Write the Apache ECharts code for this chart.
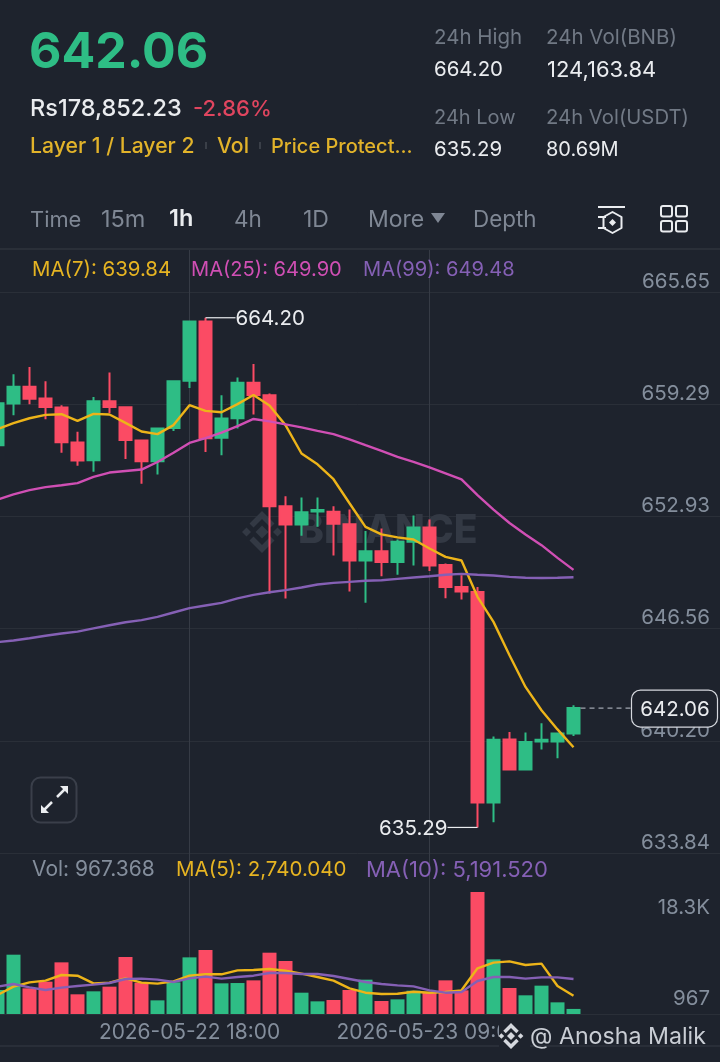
<!DOCTYPE html>
<html><head><meta charset="utf-8">
<style>html,body{margin:0;padding:0;background:#1e232d;overflow:hidden;width:720px;height:1062px}#c{position:absolute;left:-11px;top:0;width:742px;height:1062px}</style>
<script src="https://cdn.jsdelivr.net/npm/echarts@6/dist/echarts.min.js"></script>
</head><body><div id="c"></div>
<script>
const times = ['2026-05-22 06:00','2026-05-22 07:00','2026-05-22 08:00','2026-05-22 09:00','2026-05-22 10:00','2026-05-22 11:00','2026-05-22 12:00','2026-05-22 13:00','2026-05-22 14:00','2026-05-22 15:00','2026-05-22 16:00','2026-05-22 17:00','2026-05-22 18:00','2026-05-22 19:00','2026-05-22 20:00','2026-05-22 21:00','2026-05-22 22:00','2026-05-22 23:00','2026-05-23 00:00','2026-05-23 01:00','2026-05-23 02:00','2026-05-23 03:00','2026-05-23 04:00','2026-05-23 05:00','2026-05-23 06:00','2026-05-23 07:00','2026-05-23 08:00','2026-05-23 09:00','2026-05-23 10:00','2026-05-23 11:00','2026-05-23 12:00','2026-05-23 13:00','2026-05-23 14:00','2026-05-23 15:00','2026-05-23 16:00','2026-05-23 17:00','2026-05-23 18:00'];
const opens  = [656.97,659.34,660.28,659.62,659.11,657.13,656.12,659.47,659.13,657.24,656.06,657.94,660.62,663.99,657.39,658.50,660.51,659.81,653.51,652.47,653.21,653.19,652.49,650.43,650.96,650.34,651.49,652.30,650.17,648.93,648.65,636.71,640.28,638.58,640.17,640.17,640.62];
const closes = [659.35,660.28,659.60,659.14,657.14,656.10,659.47,659.14,657.26,656.06,657.92,660.60,663.99,657.37,658.49,660.51,659.82,653.51,652.47,653.17,653.29,652.51,650.43,650.96,650.34,651.49,652.30,650.15,648.93,648.67,636.71,640.26,638.58,640.14,640.26,640.62,642.06];
const lows   = [656.86,658.67,659.30,658.45,656.54,655.80,655.46,658.80,656.19,654.78,655.31,657.78,660.22,656.59,656.40,657.92,658.71,648.56,648.28,651.83,652.34,650.72,648.67,648.03,649.54,649.62,650.15,649.84,648.29,648.22,635.29,635.59,638.58,638.55,639.71,639.22,640.47];
const highs  = [659.52,661.00,661.41,660.60,659.24,657.73,659.71,661.10,659.15,657.24,657.95,660.60,663.99,664.20,659.81,660.81,661.57,659.90,654.08,654.01,654.01,653.51,653.32,652.11,652.25,651.62,652.98,652.76,650.26,649.60,648.93,640.45,640.71,640.68,641.20,640.62,642.22];
const ma7  = [657.88,658.22,658.50,658.69,658.73,658.35,658.75,658.71,658.24,657.75,657.60,658.11,659.24,658.92,658.84,659.30,659.82,659.22,658.11,656.50,655.89,655.04,653.68,652.34,651.91,651.74,651.62,651.11,650.64,650.43,648.37,646.95,645.06,643.26,641.94,640.85,639.84];
const ma25 = [653.89,654.18,654.42,654.59,654.70,654.82,655.17,655.42,655.51,655.59,656.02,656.54,657.10,657.37,657.69,658.05,658.46,658.32,658.15,657.98,657.78,657.60,657.30,656.97,656.65,656.31,656.02,655.71,655.37,655.03,654.14,653.32,652.56,651.91,651.30,650.58,649.90];
const ma99 = [645.80,645.89,646.02,646.16,646.29,646.40,646.58,646.76,646.93,647.05,647.23,647.48,647.73,647.88,648.03,648.28,648.48,648.63,648.75,648.90,649.07,649.16,649.22,649.28,649.31,649.39,649.47,649.54,649.62,649.67,649.62,649.58,649.50,649.45,649.44,649.45,649.48];
const volumes = [4570,11300,4890,6160,9840,3750,4320,5210,10860,5970,2600,6030,10790,12190,5840,5900,6410,11680,10100,4060,2410,2670,4570,6540,2480,2790,4440,4060,6410,4510,23240,10410,4950,3560,5400,2220,967];
const volMa5  = [3620,5210,6030,6350,7430,7300,5840,5970,6790,5970,5780,6220,7300,7560,7560,8320,8380,8570,8250,7680,7050,6350,4890,4060,3810,3870,4250,4060,4190,4510,8700,9780,10030,9330,9590,5330,3490];
const volMa10 = [5210,5710,5080,4570,5020,5330,5590,5900,6670,6730,6540,6100,6790,7110,6730,7050,7300,7810,7810,7620,7620,7240,6670,6100,5710,5460,5270,4510,4060,4190,6290,7050,7050,6730,6980,6980,6670];
const priceTicks = [633.84,640.20,646.56,652.93,659.29,665.65];
const volTicks = [967,18300];
const volTickLabels = ['967','18.3K'];
const lastPrice = 642.06, highPrice = 664.20, lowPrice = 635.29;

const BG='#1e232d', UP='#2ebd85', DOWN='#fb4b64', GREY='#848e9c', WHITE='#eaecef', YEL='#f0b90b', PINK='#d04fb4', PUR='#8560b5', GRID='#2a2f38', VLINE='#363b45';
const FONT='Inter, "Noto Sans", sans-serif';
const axisCats = times.concat(new Array(9).fill(''));
const labelled = [12,27];

function T(text,x,y,size,fill,o){o=o||{};return {type:'text',silent:true,z:o.z==null?50:o.z,style:{x:x,y:y,text:text,fill:fill,fontSize:size,fontFamily:FONT,fontWeight:o.w||400,align:o.a||'left',verticalAlign:'middle'}};}
function L(x1,y1,x2,y2,c,w,o){o=o||{};return {type:'line',silent:true,z:o.z==null?50:o.z,shape:{x1,y1,x2,y2},style:{stroke:c,lineWidth:w||1,lineDash:o.d,lineCap:o.cap||'butt'}};}
function P(pts,o){return {type:'polygon',silent:true,z:o.z==null?50:o.z,shape:{points:pts},style:{fill:o.fill||null,stroke:o.stroke||null,lineWidth:o.w||1,lineJoin:'round'}};}
function R(x,y,w,h,r,o){return {type:'rect',silent:true,z:o.z==null?50:o.z,shape:{x,y,width:w,height:h,r},style:{fill:o.fill||null,stroke:o.stroke||null,lineWidth:o.w||1}};}

const g=[];
// header
g.push(T('642.06',29,53,50,UP,{w:700}));
g.push(T('Rs178,852.23',30,109,23.5,WHITE,{w:500}));
g.push(T('-2.86%',193,109,22,'#e0455f',{w:500}));
g.push(T('Layer 1 / Layer 2',30,147,21.2,'#e2b32a',{w:500}));
g.push(T('Vol',217,147,21.2,'#e2b32a',{w:500}));
g.push(T('Price Protect...',271,147,20,'#e2b32a',{w:500}));
g.push(L(206,142,206,149,'#3a3f48',2)); g.push(L(260,142,260,149,'#3a3f48',2));
g.push(T('24h High',434,38,20.5,'#717985'));
g.push(T('24h Vol(BNB)',546,38,20.5,'#717985'));
g.push(T('664.20',434,70,20.4,WHITE));
g.push(T('124,163.84',547,70,22,WHITE));
g.push(T('24h Low',434,118,20,'#717985'));
g.push(T('24h Vol(USDT)',546,118,20.3,'#717985'));
g.push(T('635.29',434,150,20.4,WHITE));
g.push(T('80.69M',546,150,20,WHITE));
// tabs
[['Time',30,21.9],['15m',101,23.5],['4h',234,22.5],['1D',303,23],['More',368,23],['Depth',473,22.4]].forEach(a=>g.push(T(a[0],a[1],220,a[2],'#7f8794')));
g.push(T('1h',169,219,23.5,WHITE,{w:600}));
g.push(P([[431,213],[445,213],[438,223]],{fill:'#7f8794'}));
// tool icons
g.push(L(598,207,625,207,WHITE,2)); g.push(L(598,217,606,217,WHITE,2)); g.push(L(598,228,606,228,WHITE,2));
g.push(P([[612,212],[621,217],[621,228],[612,233],[603,228],[603,217]].map(p=>[p[0]+0.5,p[1]]),{stroke:WHITE,w:2}));
g.push(P([[612.5,219],[616,222.5],[612.5,226],[609,222.5]],{fill:WHITE}));
[[661,206],[676,206],[661,221],[676,221]].forEach(p=>g.push(R(p[0],p[1],11,10.5,2,{stroke:WHITE,w:2})));
// separators
g.push(L(0,249,720,249,'#2a2f38',2,{z:1})); g.push(L(0,1046,720,1046,'#343a44',1,{z:1}));
// legends
g.push(T('MA(7): 639.84',32,270,20.4,'#e6b422'));
g.push(T('MA(25): 649.90',191,270,20.1,PINK));
g.push(T('MA(99): 649.48',363,270,20.1,PUR));
g.push(T('Vol: 967.368',32,870,21,GREY));
g.push(T('MA(5): 2,740.040',176,870,20.5,'#e6b422'));
g.push(T('MA(10): 5,191.520',366,870,22,PUR));
// expand button
g.push(R(31.5,777.5,45,45,9,{stroke:'#3a3f4a',w:2}));
g.push(L(43,811,52,802,WHITE,2.5)); g.push(L(57,797,66,788,WHITE,2.5));
g.push(P([[41,813],[41,805],[49,813]],{fill:WHITE})); g.push(P([[68,786],[68,794],[60,786]],{fill:WHITE}));
// BINANCE watermark
const WM='#333944';
function logo(cx,cy,s,c,z){
  const d=(x,y,r)=>P([[cx+(x)*s,cy+(y-r)*s],[cx+(x+r)*s,cy+y*s],[cx+x*s,cy+(y+r)*s],[cx+(x-r)*s,cy+y*s]],{fill:c,z});
  const out=[d(0,0,6.5),d(-15.5,0,4.5),d(15.5,0,4.5)];
  const ch=(sgn)=>P([[cx,cy+sgn*-21*s],[cx+12.5*s,cy+sgn*-8.5*s],[cx+8.5*s,cy+sgn*-4.5*s],[cx,cy+sgn*-13*s],[cx-8.5*s,cy+sgn*-4.5*s],[cx-12.5*s,cy+sgn*-8.5*s]],{fill:c,z});
  out.push(ch(1),ch(-1));return out;
}
logo(262,532,1,WM,0).forEach(e=>g.push(e));
g.push(T('BINANCE',298,531,39,WM,{w:800,z:0}));
// author mark: dark patch hides the axis label behind the logo
g.push(R(499,1022,31,30,0,{fill:BG,z:59}));
logo(511,1036,0.62,'#d5d8de',60).forEach(e=>g.push(e));
g.push(T('@ Anosha Malik',530,1037,23.2,'#c9cdd4',{z:60}));

const chart=echarts.init(document.getElementById('c'),null,{renderer:'canvas'});
const gridPos={left:0.5,width:736};
const SHIFT=11; // page x = chart x - SHIFT
const xBase={type:'category',data:axisCats,boundaryGap:true,axisTick:{show:false},
  splitLine:{show:true,alignWithLabel:true,interval:(i)=>labelled.includes(i),lineStyle:{color:VLINE,width:1}}};
const line=(name,data,c,w,x,y)=>({name,type:'line',data,xAxisIndex:x,yAxisIndex:y,showSymbol:false,symbol:'none',lineStyle:{color:c,width:w},z:5,silent:true});
const wrap=(els)=>({elements:[{type:'group',id:'root',x:SHIFT,y:0,$action:'replace',children:els}]});
chart.setOption({
  animation:false,backgroundColor:BG,
  grid:[{...gridPos,top:249,height:604},{...gridPos,top:853,height:161}],
  xAxis:[
    {...xBase,gridIndex:0,axisLine:{show:false},axisLabel:{show:false}},
    {...xBase,gridIndex:1,axisLine:{show:true,lineStyle:{color:GRID,width:1}},
     axisLabel:{show:true,interval:(i)=>labelled.includes(i),color:GREY,fontSize:20.9,fontFamily:FONT,margin:8,hideOverlap:false}}
  ],
  yAxis:[
    {type:'value',gridIndex:0,position:'right',scale:true,min:633.84,max:668.1,
     axisLine:{show:false},axisTick:{show:false,customValues:priceTicks},
     splitLine:{show:true,lineStyle:{color:GRID,width:1}},
     axisLabel:{inside:true,margin:15.5,customValues:priceTicks,formatter:(v)=>v.toFixed(2),color:GREY,fontSize:20.5,fontFamily:FONT,align:'right',verticalAlign:'bottom',showMinLabel:true,showMaxLabel:true}},
    {type:'value',gridIndex:1,position:'right',min:0,max:30670,
     axisLine:{show:false},axisTick:{show:false,customValues:volTicks},splitLine:{show:false},
     axisLabel:{inside:true,margin:15.5,customValues:volTicks,formatter:(v)=>volTickLabels[volTicks.indexOf(v)],color:GREY,fontSize:20.5,fontFamily:FONT,align:'right',verticalAlign:'bottom'}}
  ],
  series:[
    {type:'candlestick',xAxisIndex:0,yAxisIndex:0,barWidth:12.5,z:3,silent:true,
     data:times.map((_,i)=>[opens[i],closes[i],lows[i],highs[i]]),
     itemStyle:{color:UP,color0:DOWN,borderColor:UP,borderColor0:DOWN,borderWidth:2}},
    line('MA(7)',ma7,'#edb419',2.4,0,0),
    line('MA(25)',ma25,PINK,2.4,0,0),
    line('MA(99)',ma99,PUR,2.4,0,0),
    {type:'bar',xAxisIndex:1,yAxisIndex:1,barWidth:14,z:3,silent:true,
     data:volumes.map((v,i)=>({value:v,itemStyle:{color:closes[i]>=opens[i]?UP:DOWN}}))},
    line('MA(5)',volMa5,'#edb419',2.4,1,1),
    line('MA(10)',volMa10,PUR,2.4,1,1)
  ]
});
// high / low / last price callouts placed through the chart's own scales
const px=(i,v)=>{const p=chart.convertToPixel({xAxisIndex:0,yAxisIndex:0},[i,v]);return [p[0]-SHIFT,p[1]];};
const hi=px(highs.indexOf(highPrice),highPrice), lo=px(lows.indexOf(lowPrice),lowPrice), la=px(closes.length-1,lastPrice);
const extra=[
  L(hi[0],hi[1],hi[0]+30,hi[1],WHITE,1.2,{z:60}),
  T(highPrice.toFixed(2),hi[0]+30,hi[1]+1.5,20.5,WHITE,{z:60}),
  L(lo[0]-30,lo[1],lo[0],lo[1],WHITE,1.2,{z:60}),
  T(lowPrice.toFixed(2),lo[0]-30,lo[1]+1.5,20.5,WHITE,{a:'right',z:60}),
  L(la[0]+7,la[1],632,la[1],'#a0a6b0',1.2,{d:[5,4],z:60}),
  R(631.5,la[1]-18,86,37,9,{fill:BG,stroke:'#d5d8de',w:1.2,z:70}),
  T(lastPrice.toFixed(2),675,la[1]+1.5,20.5,WHITE,{a:'center',z:71})
];
chart.setOption({graphic:wrap(g.concat(extra))});
</script></body></html>
